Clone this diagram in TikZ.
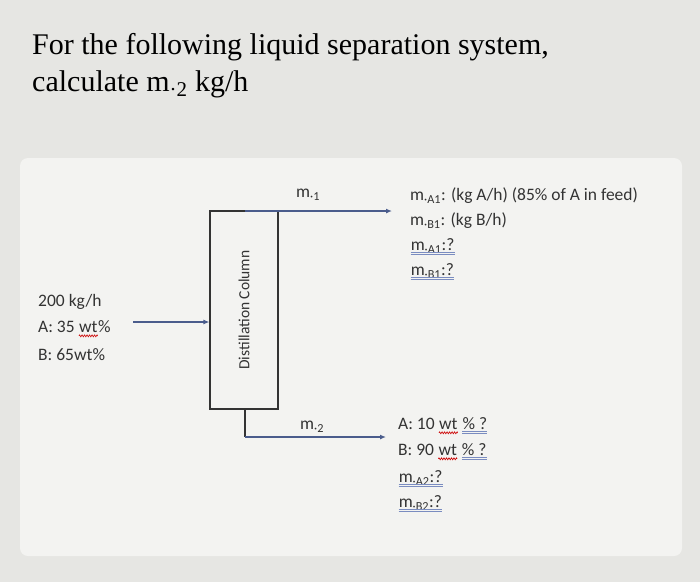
\documentclass[tikz,border=0pt]{standalone}
\usepackage{fontspec}
\setmainfont{Carlito}
\newfontfamily\titlefont{Liberation Serif}
\usetikzlibrary{arrows.meta,decorations.pathmorphing}
\definecolor{bgc}{HTML}{E6E6E3}
\definecolor{boxc}{HTML}{F3F3F1}
\definecolor{linec}{HTML}{4A5C8C}
\definecolor{ulc}{HTML}{7A8CC0}
\newcommand\blu[1]{\tikz[baseline=(u.base)]{\node[inner sep=0,text=black!80](u){#1};\draw[ulc,line width=0.7pt]([yshift=-2pt]u.base west)--([yshift=-2pt]u.base east);\draw[ulc,line width=0.7pt]([yshift=-4pt]u.base west)--([yshift=-4pt]u.base east);}}
\newcommand\wav[1]{\tikz[baseline=(w.base)]{\node[inner sep=0,text=black!80](w){#1};\draw[red!80!black,line width=0.6pt,decorate,decoration={zigzag,amplitude=1pt,segment length=2.5pt}]([yshift=-3pt]w.base west)--([yshift=-3pt]w.base east);}}
\newcommand\md[1]{m\textsubscript{·#1}}
\tikzset{lbl/.style={anchor=west,inner sep=0,font=\fontsize{17.5}{20}\selectfont,text=black!80},
 flow/.style={draw=linec,line width=1.2pt,-{Latex[length=6pt,width=5pt]}}}
\begin{document}
\begin{tikzpicture}[x=1pt,y=-1pt]
\useasboundingbox (0,0) rectangle (700,582);
\fill[bgc] (0,0) rectangle (700,582);
\fill[boxc,rounded corners=8pt] (20,158) rectangle (682,556);
\node[anchor=west,inner sep=0,font=\titlefont\fontsize{30}{34}\selectfont] (t1) at (32,47) {For the following liquid separation system,};
\node[anchor=west,inner sep=0,font=\titlefont\fontsize{30}{34}\selectfont] (t2) at (32,84) {calculate m\textsubscript{·2} kg/h};
\node[draw=black!80,line width=1.1pt,minimum width=68pt,minimum height=198pt,inner sep=0] (col) at (244,310) {};
\node[rotate=90,font=\fontsize{15.5}{18}\selectfont,text=black!80] (ct) at (col.center) {Distillation Column};
\coordinate (top) at (245,211);
\coordinate (bot) at (245,437);
\coordinate (o1) at (392,211);
\coordinate (o2) at (386,437);
\coordinate (f0) at (133,322);
\draw[black!80,line width=1.1pt] (col.south -| bot) -- (bot);
\draw[flow] (top) -- (o1);
\draw[flow] (bot) -- (o2);
\draw[flow] (f0) -- (col.west |- f0);
\node[lbl] (m1) at (296,195) {m\textsubscript{·1}};
\node[lbl] (m2) at (300,427) {m\textsubscript{·2}};
\node[lbl] (f1) at (38,302) {200 kg/h};
\node[lbl] (f2) at (38,329) {A: 35 \wav{wt}\%};
\node[lbl] (f3) at (38,355) {B: 65wt\%};
\node[lbl] (r1) at (410,196) {\md{A1}: (kg A/h) (85\% of A in feed)};
\node[lbl] (r2) at (410,221) {\md{B1}: (kg B/h)};
\node[lbl] (r3) at (410,247) {\blu{\md{A1}:?}};
\node[lbl] (r4) at (410,272) {\blu{\md{B1}:?}};
\node[lbl] (s1) at (398,426) {A: 10 \wav{wt} \blu{\% ?}};
\node[lbl] (s2) at (398,452) {B: 90 \wav{wt} \blu{\% ?}};
\node[lbl] (s3) at (398,479) {\blu{\md{A2}:?}};
\node[lbl] (s4) at (398,504) {\blu{\md{B2}:?}};
\end{tikzpicture}
\end{document}
